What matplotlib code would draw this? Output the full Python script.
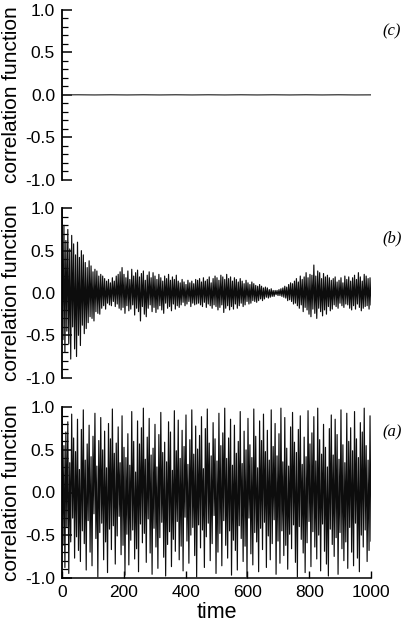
import numpy as np
import matplotlib
matplotlib.use('Agg')
from matplotlib import pyplot as plt
from matplotlib.ticker import MultipleLocator

plt.rcParams['font.family'] = ['Liberation Sans', 'DejaVu Sans']

# panel (a): quasi-periodic, full amplitude all the way
corr_a = [
    1.00, -0.62, 0.55, -0.88, 0.71, -0.40, 0.83, -0.95, 0.35, -0.58, 0.92, -0.30, 0.64, -0.77, 0.48, -0.52, 0.86, -0.68, 0.27, -0.81,
    0.74, -0.45, 0.97, -0.60, 0.38, -0.91, 0.57, -0.33, 0.79, -0.70, 0.42, -0.86, 0.66, -0.25, 0.93, -0.54, 0.31, -0.99, 0.61, -0.47,
    0.88, -0.36, 0.50, -0.79, 0.72, -0.58, 0.29, -0.94, 0.81, -0.43, 0.63, -0.67, 0.98, -0.39, 0.46, -0.84, 0.58, -0.51, 0.77, -0.28,
    0.35, -0.73, 0.90, -0.62, 0.53, -0.97, 0.41, -0.49, 0.69, -0.85, 0.32, -0.56, 0.95, -0.44, 0.60, -0.78, 0.24, -0.66, 0.84, -0.93,
    0.57, -0.37, 0.76, -0.59, 0.99, -0.48, 0.39, -0.82, 0.65, -0.31, 0.87, -0.71, 0.44, -0.96, 0.52, -0.42, 0.80, -0.64, 0.30, -0.89,
    0.68, -0.53, 0.94, -0.35, 0.47, -0.76, 0.59, -0.98, 0.36, -0.61, 0.83, -0.46, 0.71, -0.87, 0.26, -0.55, 0.96, -0.69, 0.49, -0.34,
    0.85, -0.79, 0.40, -0.63, 0.73, -0.92, 0.54, -0.29, 0.91, -0.57, 0.33, -0.83, 0.62, -0.50, 0.97, -0.41, 0.45, -0.74, 0.78, -0.99,
    0.51, -0.38, 0.67, -0.65, 0.89, -0.44, 0.28, -0.88, 0.75, -0.52, 0.98, -0.36, 0.58, -0.80, 0.43, -0.60, 0.82, -0.27, 0.63, -0.95,
    0.37, -0.70, 0.93, -0.48, 0.55, -0.86, 0.70, -0.33, 0.99, -0.62, 0.40, -0.77, 0.64, -0.45, 0.86, -0.97, 0.32, -0.56, 0.79, -0.68,
    0.46, -0.91, 0.60, -0.39, 0.95, -0.54, 0.34, -0.81, 0.72, -0.63, 0.50, -0.99, 0.87, -0.30, 0.56, -0.72, 0.41, -0.85, 0.98, -0.47,
    0.66, -0.58, 0.29, -0.93, 0.84, -0.42, 0.61, -0.67, 0.92, -0.35, 0.48, -0.88, 0.73, -0.51, 0.38, -0.79, 0.97, -0.60, 0.54, -0.32,
    0.81, -0.96, 0.43, -0.57, 0.69, -0.83, 0.99, -0.45, 0.36, -0.74, 0.88, -0.62, 0.52, -0.90, 0.31, -0.49, 0.77, -0.66, 0.94, -0.38,
    0.59, -0.82, 0.47, -0.99, 0.74, -0.40, 0.90, -0.55, 0.33, -0.71, 0.65, -0.94, 0.42, -0.59, 0.96, -0.34, 0.57, -0.87, 0.70, -0.46,
    0.89, -0.64, 0.37, -0.78, 0.99, -0.50, 0.62, -0.92, 0.45, -0.37, 0.80, -0.69, 0.53, -0.84, 0.30, -0.98, 0.75, -0.43, 0.91, -0.61,
    0.44, -0.75, 0.86, -0.53, 0.68, -0.96, 0.39, -0.47, 0.97, -0.66, 0.56, -0.80, 0.35, -0.58, 0.93, -0.89, 0.60, -0.41, 0.76, -0.70,
    0.49, -0.86, 0.95, -0.36, 0.63, -0.77, 0.41, -0.93, 0.82, -0.50, 0.71, -0.64, 0.99, -0.44, 0.55, -0.81, 0.38, -0.68, 0.90, -0.57,
]

# panel (b): decays fast, revives near 200-300 and 800
corr_b = [
    1.00, -0.55, 0.80, -0.70, 0.62, -0.45, 0.75, -0.60, 0.52, -0.78, 0.68, -0.40, 0.58, -0.66, 0.45, -0.75, 0.60, -0.50, 0.42, -0.62,
    0.50, -0.38, 0.45, -0.48, 0.36, -0.42, 0.30, -0.35, 0.38, -0.28, 0.32, -0.30, 0.25, -0.33, 0.28, -0.22, 0.26, -0.24, 0.20, -0.25,
    0.22, -0.18, 0.20, -0.15, 0.17, -0.19, 0.14, -0.12, 0.16, -0.14, 0.12, -0.15, 0.18, -0.10, 0.14, -0.16, 0.20, -0.13, 0.22, -0.18,
    0.25, -0.20, 0.30, -0.17, 0.22, -0.24, 0.18, -0.15, 0.26, -0.21, 0.16, -0.19, 0.28, -0.14, 0.20, -0.26, 0.24, -0.18, 0.27, -0.22,
    0.19, -0.33, 0.23, -0.16, 0.26, -0.25, 0.15, -0.28, 0.21, -0.18, 0.25, -0.14, 0.18, -0.22, 0.24, -0.17, 0.20, -0.23, 0.16, -0.19,
    0.22, -0.15, 0.18, -0.20, 0.14, -0.24, 0.20, -0.12, 0.17, -0.18, 0.22, -0.16, 0.15, -0.21, 0.19, -0.13, 0.16, -0.19, 0.21, -0.15,
    0.14, -0.17, 0.12, -0.14, 0.16, -0.11, 0.13, -0.15, 0.10, -0.13, 0.15, -0.10, 0.12, -0.16, 0.14, -0.12, 0.11, -0.14, 0.16, -0.13,
    0.15, -0.12, 0.17, -0.14, 0.13, -0.16, 0.18, -0.11, 0.14, -0.17, 0.16, -0.13, 0.19, -0.15, 0.12, -0.18, 0.17, -0.14, 0.20, -0.16,
    0.18, -0.20, 0.15, -0.17, 0.21, -0.14, 0.19, -0.23, 0.16, -0.18, 0.22, -0.15, 0.17, -0.20, 0.19, -0.16, 0.14, -0.19, 0.18, -0.13,
    0.16, -0.18, 0.13, -0.15, 0.17, -0.12, 0.14, -0.16, 0.11, -0.14, 0.15, -0.10, 0.12, -0.13, 0.10, -0.12, 0.13, -0.09, 0.11, -0.10,
    0.09, -0.11, 0.08, -0.09, 0.10, -0.07, 0.08, -0.09, 0.06, -0.07, 0.07, -0.05, 0.06, -0.06, 0.04, -0.05, 0.05, -0.04, 0.03, -0.04,
    0.03, -0.02, 0.03, -0.03, 0.04, -0.03, 0.05, -0.04, 0.06, -0.05, 0.08, -0.06, 0.07, -0.09, 0.10, -0.08, 0.12, -0.10, 0.11, -0.13,
    0.14, -0.12, 0.17, -0.15, 0.13, -0.18, 0.20, -0.14, 0.16, -0.22, 0.19, -0.17, 0.24, -0.20, 0.18, -0.25, 0.22, -0.28, 0.21, -0.19,
    0.33, -0.24, 0.20, -0.30, 0.26, -0.18, 0.24, -0.22, 0.17, -0.27, 0.23, -0.20, 0.19, -0.25, 0.21, -0.16, 0.18, -0.21, 0.15, -0.19,
    0.17, -0.14, 0.19, -0.16, 0.13, -0.18, 0.15, -0.12, 0.18, -0.15, 0.12, -0.17, 0.20, -0.13, 0.16, -0.14, 0.19, -0.18, 0.14, -0.20,
    0.18, -0.15, 0.21, -0.19, 0.16, -0.13, 0.24, -0.17, 0.19, -0.21, 0.14, -0.18, 0.22, -0.16, 0.20, -0.15, 0.17, -0.19, 0.18, -0.14,
]

# panel (c): stays at zero
corr_c = [0.0, 0.001, -0.001, 0.001, -0.001, 0.001, -0.001, 0.001, -0.001, 0.001,
          -0.001, 0.001, -0.001, 0.001, -0.001, 0.001, -0.001, 0.001, -0.001, 0.0]

panel_names = ['(c)', '(b)', '(a)']
t_max = 1000

fig = plt.figure(figsize=(4.08, 6.23), dpi=100)

# axes rectangles (left, bottom, width, height)
left, width = 62 / 408, 309 / 408
boxes = [
    (left, 1 - 180.0 / 623, width, 170.3 / 623),
    (left, 1 - 377.7 / 623, width, 169.4 / 623),
    (left, 1 - 577.7 / 623, width, 170.4 / 623),
]
label_y = [31, 238, 432]

for i, (data, name) in enumerate(zip([corr_c, corr_b, corr_a], panel_names)):
    ax = fig.add_axes(boxes[i])
    t = np.linspace(0, t_max, len(data))
    if i == 0:
        ax.plot(t, data, color='#333333', lw=0.9)
    else:
        ax.plot(t, data, color='#0d0d0d', lw=0.85)
    ax.set_xlim(0, t_max)
    ax.set_ylim(-1.0, 1.0)
    ax.yaxis.set_major_locator(MultipleLocator(0.5))
    ax.yaxis.set_minor_locator(MultipleLocator(0.1))
    ax.yaxis.set_major_formatter(matplotlib.ticker.FormatStrFormatter('%.1f'))
    ax.tick_params(axis='y', which='major', direction='in', length=7.5, width=1.1, labelsize=12.5, pad=5)
    ax.tick_params(axis='y', which='minor', direction='in', length=4, width=0.9)
    for s in ['top', 'right']:
        ax.spines[s].set_visible(False)
    ax.spines['left'].set_linewidth(1.3)
    ax.set_ylabel('correlation function', fontsize=15, labelpad=3)
    if i < 2:
        ax.spines['bottom'].set_visible(False)
        ax.set_xticks([])
    else:
        ax.spines['bottom'].set_linewidth(1.1)
        ax.set_xticks([0, 200, 400, 600, 800, 1000])
        ax.tick_params(axis='x', direction='in', length=5, width=1.0, labelsize=12.5, pad=5)
        ax.set_xlabel('time', fontsize=15.5, labelpad=2)
    fig.text(392 / 408, 1 - label_y[i] / 623, name, family='Liberation Serif', style='italic',
             fontsize=12, ha='center', va='center')

fig.savefig('out.png', dpi=100)
